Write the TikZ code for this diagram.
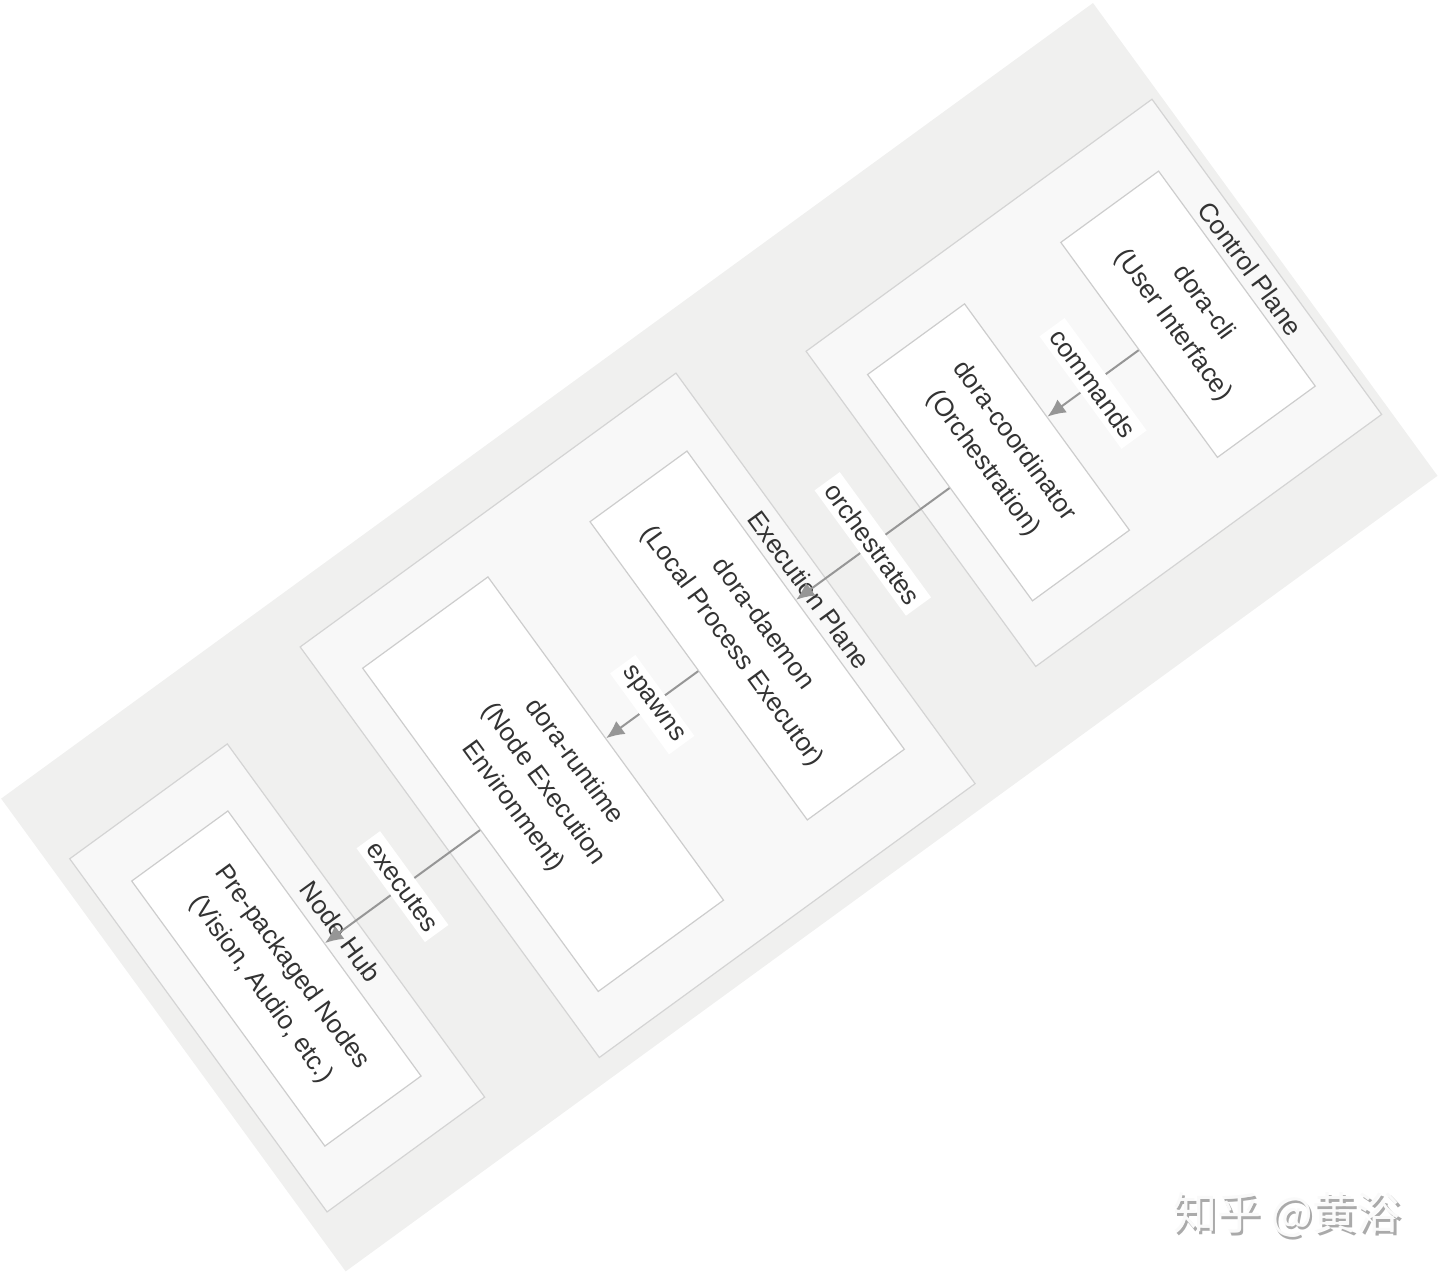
\documentclass[tikz,border=0pt]{standalone}
\usepackage{fontspec}
\setmainfont{Liberation Sans}
\newfontfamily\cjkfont{Noto Sans CJK SC}
\usetikzlibrary{arrows.meta}
\definecolor{outerbg}{RGB}{240,240,239}
\definecolor{clusterbg}{RGB}{248,248,248}
\definecolor{clusterline}{RGB}{212,212,212}
\definecolor{boxline}{RGB}{205,205,205}
\definecolor{edgecol}{RGB}{150,150,150}
\definecolor{txt}{RGB}{51,51,51}
\begin{document}
\begin{tikzpicture}[x=0.5pt,y=0.5pt,
  cluster/.style={draw=clusterline, fill=clusterbg, line width=0.6pt, inner sep=0pt, rectangle},
  box/.style={draw=boxline, fill=white, line width=0.6pt, inner sep=0pt, align=center, text=txt, font=\fontsize{13}{19}\selectfont},
  ctitle/.style={text=txt, font=\fontsize{13}{19}\selectfont, inner sep=0pt},
  edge/.style={draw=edgecol, line width=1pt, -{Latex[length=9pt,width=8pt]}},
  elabel/.style={fill=white, text=txt, font=\fontsize{13}{19}\selectfont, inner sep=3pt}
]
\useasboundingbox (0,0) rectangle (1440,-1276);

\begin{scope}[shift={(1093,-3)}, rotate=-53.92, transform shape]
  % outer background
  \fill[outerbg] (0,0) rectangle (585,-1351);

  % clusters
  \node[cluster, minimum width=195pt, minimum height=214pt] (cp) at (307.5,-223) {};
  \node[cluster, minimum width=254pt, minimum height=232.5pt] (ep) at (307.5,-787.5) {};
  \node[cluster, minimum width=218.5pt, minimum height=97.5pt] (nh) at (307.5,-1233.5) {};

  \node[ctitle] (cpt) at (307.5,-29) {Control Plane};
  \node[ctitle] (ept) at (307.5,-575) {Execution Plane};
  \node[ctitle] (nht) at (307.5,-1155) {Node Hub};

  % nodes
  \node[box, minimum width=133pt, minimum height=60.5pt] (cli) at (307.5,-106.5) {dora-cli\\(User Interface)};
  \node[box, minimum width=140pt, minimum height=60pt] (coord) at (307.5,-341) {dora-coordinator\\(Orchestration)};
  \node[box, minimum width=184.5pt, minimum height=60pt] (daemon) at (307.5,-652) {dora-daemon\\(Local Process Executor)};
  \node[box, minimum width=200pt, minimum height=77.5pt] (runtime) at (307.5,-904.5) {dora-runtime\\(Node Execution\\Environment)};
  \node[box, minimum width=164pt, minimum height=59.5pt] (nodes) at (307.5,-1234.5) {Pre-packaged Nodes\\(Vision, Audio, etc.)};

  % edges
  \draw[edge] (cli.south) -- (coord.north) node[midway, elabel] (l1) {commands};
  \draw[edge] (coord.south) -- (daemon.north) node[midway, elabel] (l2) {orchestrates};
  \draw[edge] (daemon.south) -- (runtime.north) node[midway, elabel] (l3) {spawns};
  \draw[edge] (runtime.south) -- (nodes.north) node[midway, elabel] (l4) {executes};
\end{scope}

% watermark
\node[font=\cjkfont\fontsize{22}{22}\selectfont, text={rgb,255:red,170;green,170;blue,170}, inner sep=0pt] (wms) at (1289.5,-1217.5) {知乎 @黄浴};
\node[font=\cjkfont\fontsize{22}{22}\selectfont, text={rgb,255:red,250;green,250;blue,250}, inner sep=0pt] (wm) at (1287,-1215) {知乎 @黄浴};
\end{tikzpicture}
\end{document}
